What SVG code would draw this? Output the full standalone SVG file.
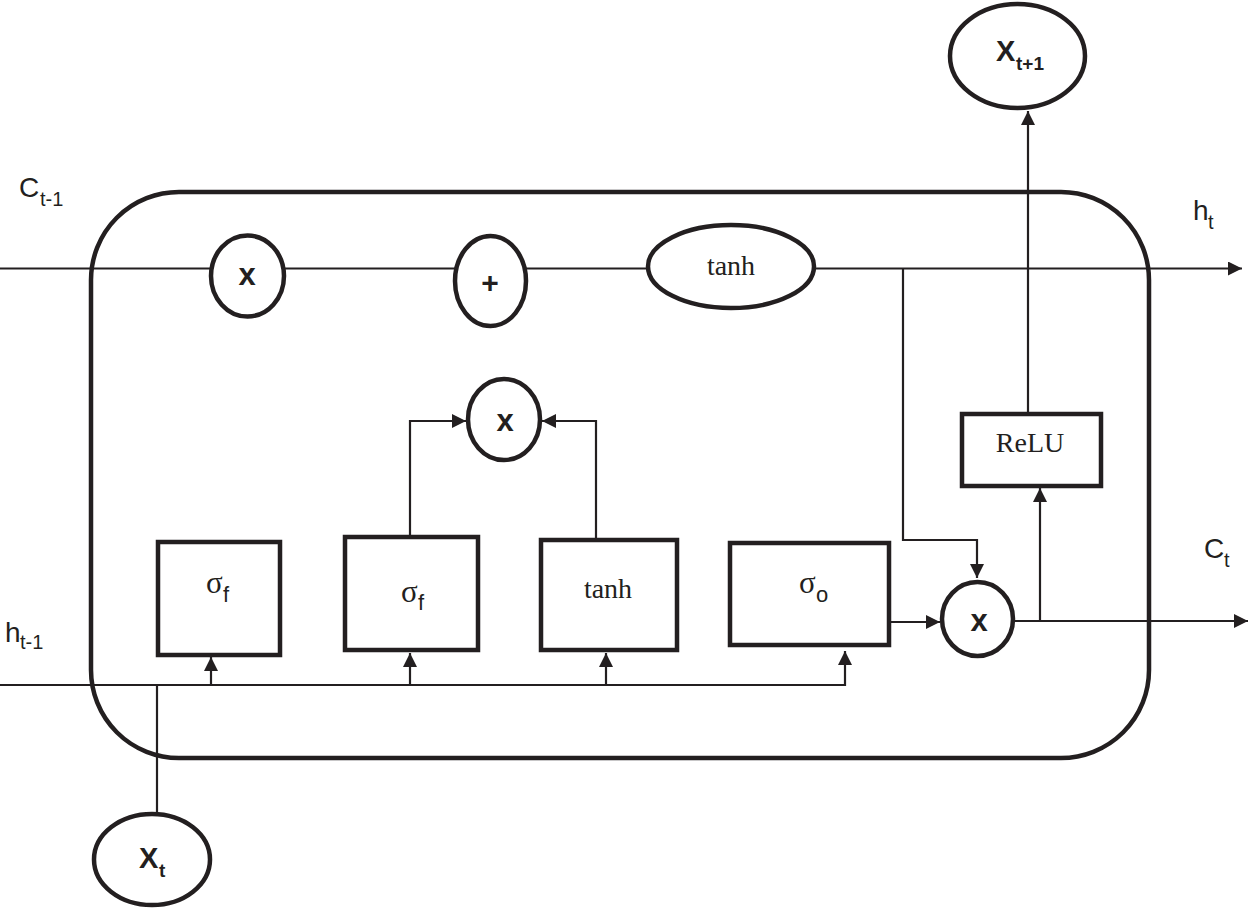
<svg xmlns="http://www.w3.org/2000/svg" width="1250" height="908" viewBox="0 0 1250 908">
<style>
.frame{fill:none;stroke:#231f20;stroke-width:4.5}
.node{fill:#fff;stroke:#231f20;stroke-width:4.5}
.conn{fill:none;stroke:#231f20;stroke-width:2.2}
.sans{font-family:"Liberation Sans",Arial,sans-serif;fill:#231f20}
.serif{font-family:"Liberation Serif","Times New Roman",serif;fill:#231f20}
.op{font-family:"Liberation Sans",Arial,sans-serif;font-weight:bold;fill:#231f20;text-anchor:middle}
.lbl{font-size:28px}
.sub{font-size:20px}
.fn{font-size:28px;text-anchor:middle}
.sig{font-size:31px}
.gsub{font-size:22px}
</style>
<defs>
<marker id="arr" markerUnits="userSpaceOnUse" markerWidth="15" markerHeight="15" refX="14" refY="7" orient="auto">
<path d="M0,0 L14,7 L0,14 z" fill="#231f20"/>
</marker>
</defs>
<rect id="cell" class="frame" x="91" y="192" width="1058" height="566" rx="88" ry="88"/>
<g id="connectors">
<path class="conn" d="M0,268.5 H1242" marker-end="url(#arr)"/>
<path class="conn" d="M903,268.5 V540 H977 V578" marker-end="url(#arr)"/>
<path class="conn" d="M891,622 H940" marker-end="url(#arr)"/>
<path class="conn" d="M1015,621 H1248" marker-end="url(#arr)"/>
<path class="conn" d="M1040,621 V488" marker-end="url(#arr)"/>
<path class="conn" d="M1028,412 V111" marker-end="url(#arr)"/>
<path class="conn" d="M410,535 V421 H466" marker-end="url(#arr)"/>
<path class="conn" d="M596,538 V421 H542" marker-end="url(#arr)"/>
<path class="conn" d="M0,685 H845 V651" marker-end="url(#arr)"/>
<path class="conn" d="M211,685 V657" marker-end="url(#arr)"/>
<path class="conn" d="M410,685 V653" marker-end="url(#arr)"/>
<path class="conn" d="M606,685 V653" marker-end="url(#arr)"/>
<path class="conn" d="M157,685 V812"/>
</g>
<g id="forget-mul">
<ellipse class="node" cx="247.5" cy="276" rx="36.5" ry="40.5"/>
<text class="op" x="247" y="285" font-size="31">x</text>
</g>
<g id="add">
<ellipse class="node" cx="490.5" cy="281" rx="35.5" ry="45"/>
<text class="op" x="490" y="293" font-size="30">+</text>
</g>
<g id="tanh-cell">
<ellipse class="node" cx="731" cy="266.5" rx="83" ry="41.5"/>
<text class="serif fn" x="731" y="275">tanh</text>
</g>
<g id="input-mul">
<ellipse class="node" cx="504" cy="419.5" rx="36" ry="40.5"/>
<text class="op" x="505" y="431" font-size="31">x</text>
</g>
<g id="output-mul">
<ellipse class="node" cx="977.5" cy="619" rx="35.5" ry="37"/>
<text class="op" x="979" y="631" font-size="31">x</text>
</g>
<g id="xt1">
<ellipse class="node" cx="1017.5" cy="56" rx="67.5" ry="52"/>
<text class="sans" font-weight="bold"><tspan x="996" y="61" font-size="29">X</tspan><tspan x="1016" y="70" font-size="19">t+1</tspan></text>
</g>
<g id="xt">
<ellipse class="node" cx="152" cy="859.5" rx="58" ry="45.5"/>
<text class="sans" font-weight="bold"><tspan x="139" y="868" font-size="29">X</tspan><tspan x="159" y="877" font-size="19">t</tspan></text>
</g>
<g id="sigma-f1">
<rect class="node" x="158" y="542" width="122" height="113"/>
<text class="serif sig" x="206" y="593">σ</text>
<text class="sans gsub" x="223" y="602">f</text>
</g>
<g id="sigma-f2">
<rect class="node" x="345" y="537" width="133" height="113"/>
<text class="serif sig" x="401" y="602">σ</text>
<text class="sans gsub" x="418" y="610">f</text>
</g>
<g id="tanh-gate">
<rect class="node" x="541" y="540" width="136" height="110"/>
<text class="serif fn" x="608" y="598">tanh</text>
</g>
<g id="sigma-o">
<rect class="node" x="730" y="543" width="159" height="102"/>
<text class="serif sig" x="799" y="593">σ</text>
<text class="sans gsub" x="816" y="602">o</text>
</g>
<g id="relu">
<rect class="node" x="962" y="414" width="139" height="72"/>
<text class="serif fn" x="1030" y="452">ReLU</text>
</g>
<g id="labels">
<text class="sans"><tspan x="19" y="197" class="lbl">C</tspan><tspan x="40" y="206" class="sub">t-1</tspan></text>
<text class="sans"><tspan x="1193" y="220" class="lbl">h</tspan><tspan x="1208" y="229" class="sub">t</tspan></text>
<text class="sans"><tspan x="1204" y="558" class="lbl">C</tspan><tspan x="1224" y="567" class="sub">t</tspan></text>
<text class="sans"><tspan x="5" y="642" class="lbl">h</tspan><tspan x="20" y="649" class="sub">t-1</tspan></text>
</g>
</svg>
